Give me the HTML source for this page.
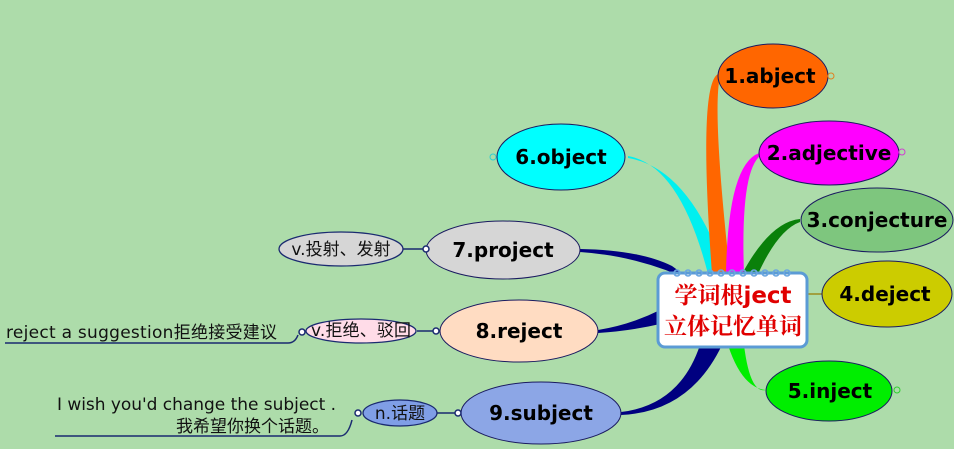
<!DOCTYPE html>
<html><head><meta charset="utf-8"><style>
html,body{margin:0;padding:0;background:#addcaa;}
svg{display:block}
.n{font-family:"DejaVu Sans","Liberation Sans",sans-serif;font-weight:bold;font-size:20px;fill:#000;text-anchor:middle}
.s{font-family:"DejaVu Sans","Noto Sans CJK SC",sans-serif;font-size:17px;fill:#111;text-anchor:middle}
.t{font-family:"DejaVu Sans","Noto Sans CJK SC",sans-serif;font-size:17px;fill:#111}
</style></head><body>
<svg width="954" height="449" viewBox="0 0 954 449" xmlns="http://www.w3.org/2000/svg">
<rect width="954" height="449" fill="#addcaa"/>
<path d="M628,156 Q680,165 708,274 L726,274 Q690,168 628,158 Z" fill="#00f0f0"/>
<path d="M718,74 Q698,85 712,274 L730,274 Q712,110 720,77 Z" fill="#ff6600"/>
<path d="M763,152 Q728,158 726,274 L744,274 Q740,165 763,154 Z" fill="#ff00ff"/>
<path d="M800,219 Q770,222 742,274 L758,274 Q778,230 800,222 Z" fill="#0a800a"/>
<path d="M580,249 Q640,250 672,266 L694,282 Q640,256 580,252 Z" fill="#000080"/>
<path d="M598,330 Q630,325 660,310 L660,324 Q630,331 598,333 Z" fill="#000080"/>
<path d="M621,412 Q680,405 700,345 L722,345 Q690,412 621,415 Z" fill="#000080"/>
<path d="M728,345 Q742,388 766,390 Q750,394 744,345 Z" fill="#00ee00"/>
<line x1="807" y1="294" x2="822" y2="294" stroke="#a0a040" stroke-width="2"/>
<rect x="658" y="273" width="149" height="74" rx="7" fill="#fff" stroke="#5b9bd5" stroke-width="3"/>
<g fill="none" stroke="#6aa6e0" stroke-width="1.6">
<circle cx="677" cy="273" r="3"/><circle cx="688" cy="273" r="3"/><circle cx="699" cy="273" r="3"/><circle cx="710" cy="273" r="3"/><circle cx="721" cy="273" r="3"/><circle cx="732" cy="273" r="3"/><circle cx="743" cy="273" r="3"/><circle cx="754" cy="273" r="3"/><circle cx="765" cy="273" r="3"/><circle cx="776" cy="273" r="3"/><circle cx="787" cy="273" r="3"/>
</g>
<text x="733" y="303" text-anchor="middle" font-size="23" fill="#e00000"><tspan font-family="'Noto Serif CJK SC',serif" font-weight="bold">学词根</tspan><tspan font-weight="bold" font-family="'DejaVu Sans',sans-serif">ject</tspan></text>
<text x="733" y="334" text-anchor="middle" font-family="'Noto Serif CJK SC',serif" font-weight="bold" font-size="23" fill="#e00000">立体记忆单词</text>
<ellipse cx="773" cy="76" rx="55" ry="32" fill="#ff6600" stroke="#1a1a60"/>
<text class="n" x="770" y="83">1.abject</text>
<circle cx="831" cy="76" r="3" fill="none" stroke="#e08020"/>
<ellipse cx="829" cy="153" rx="70" ry="32" fill="#ff00ff" stroke="#1a1a60"/>
<text class="n" x="829" y="160">2.adjective</text>
<circle cx="902" cy="152" r="3" fill="none" stroke="#d040d0"/>
<ellipse cx="877" cy="220" rx="76" ry="32" fill="#7ec67e" stroke="#1a1a60"/>
<text class="n" x="877" y="227">3.conjecture</text>
<ellipse cx="887" cy="294" rx="65" ry="33" fill="#cccc00" stroke="#1a1a60"/>
<text class="n" x="885" y="301">4.deject</text>
<ellipse cx="829" cy="391" rx="63" ry="30" fill="#00ee00" stroke="#1a1a60"/>
<text class="n" x="830" y="398">5.inject</text>
<circle cx="897" cy="390" r="3" fill="none" stroke="#30d030"/>
<ellipse cx="561" cy="157" rx="64" ry="33" fill="#00ffff" stroke="#1a1a60"/>
<text class="n" x="561" y="164">6.object</text>
<circle cx="493" cy="157" r="3" fill="none" stroke="#30d0d0"/>
<ellipse cx="503" cy="250" rx="77" ry="29" fill="#d6d6d6" stroke="#1a1a60"/>
<text class="n" x="503" y="257">7.project</text>
<ellipse cx="519" cy="331" rx="79" ry="31" fill="#ffdcc2" stroke="#1a1a60"/>
<text class="n" x="519" y="338">8.reject</text>
<ellipse cx="541" cy="413" rx="80" ry="31" fill="#8ca6e6" stroke="#1a1a60"/>
<text class="n" x="541" y="420">9.subject</text>
<g stroke="#1a2a70" stroke-width="1.5" fill="none">
<line x1="403" y1="249" x2="424" y2="249"/><circle cx="426" cy="249" r="3" fill="#fff"/>
<line x1="417" y1="331" x2="434" y2="331"/><circle cx="436" cy="331" r="3" fill="#fff"/>
<line x1="437" y1="413" x2="456" y2="413"/><circle cx="458" cy="413" r="3" fill="#fff"/>
<path d="M5,343 L288,343 Q295,343 298,335"/><circle cx="302" cy="332" r="3" fill="#fff"/>
<path d="M55,436 L340,436 Q348,436 352,420"/><circle cx="358" cy="413" r="3" fill="#fff"/>
</g>
<ellipse cx="341" cy="249" rx="62" ry="17" fill="#d6d6d6" stroke="#1a2a70" stroke-width="1.3"/>
<text class="s" x="341" y="255">v.投射、发射</text>
<ellipse cx="361" cy="331" rx="55" ry="12" fill="#ffdce8" stroke="#1a2a70" stroke-width="1.3"/>
<text class="s" x="361" y="336" font-size="15" textLength="100">v.拒绝、驳回</text>
<ellipse cx="400" cy="413" rx="37" ry="13" fill="#7f9ee6" stroke="#1a2a70" stroke-width="1.3"/>
<text class="s" x="400" y="419">n.话题</text>
<text class="t" x="6" y="338" textLength="271">reject a suggestion拒绝接受建议</text>
<text class="t" x="57" y="410" textLength="279">I wish you'd change the subject .</text>
<text class="t" x="329" y="432" text-anchor="end">我希望你换个话题。</text>
</svg>
</body></html>
